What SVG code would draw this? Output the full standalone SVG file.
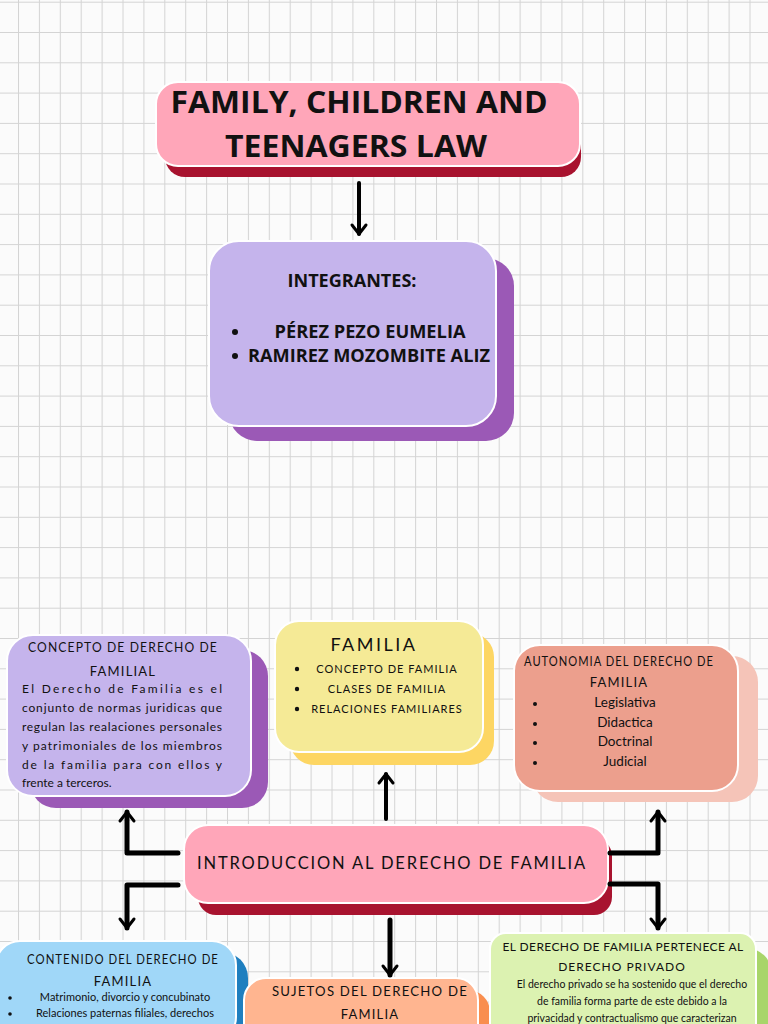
<svg xmlns="http://www.w3.org/2000/svg" width="768" height="1024" viewBox="0 0 768 1024">
<defs>
<pattern id="grid" patternUnits="userSpaceOnUse" x="18" y="1.7" width="20.9" height="30.3">
<rect width="20.9" height="30.3" fill="#fbfbfb"/>
<path d="M0.5,0 V30.3 M0,0.5 H20.9" stroke="#d4d4d4" stroke-width="1" fill="none"/>
</pattern>
<marker id="arr" viewBox="0 0 20 20" refX="15" refY="10" markerWidth="20" markerHeight="20" markerUnits="userSpaceOnUse" orient="auto">
<path d="M6,3 L15,10 L6,17" stroke="#000" stroke-width="3" fill="none" stroke-linecap="round" stroke-linejoin="round"/>
</marker>
<style>
.front{stroke:#fff;stroke-width:2}
.cap{font-family:Lato,"Open Sans",sans-serif;font-size:13px;letter-spacing:1.2px;fill:#111;text-anchor:middle}
.item{font-family:Lato,"Open Sans",sans-serif;font-size:11px;letter-spacing:1px;fill:#111;text-anchor:middle}
.hand{font-family:Lato,"Open Sans",sans-serif;font-size:12px;fill:#111}
.handc{font-family:Lato,"Open Sans",sans-serif;font-size:11px;fill:#111;text-anchor:middle}
.bold{font-family:"Open Sans","Liberation Sans",sans-serif;font-weight:bold;fill:#111;text-anchor:middle}
.conn{stroke:#000;stroke-width:5;fill:none;stroke-linecap:round;stroke-linejoin:round}
</style>
</defs>
<rect width="768" height="1024" fill="url(#grid)"/>

<g id="title">
<rect x="165" y="94" width="416" height="83" rx="20" fill="#a8132f"/>
<rect x="156" y="82" width="424" height="84" rx="22" fill="#ffa6b9" class="front"/>
<text x="359" y="113" class="bold" style="font-size:31px" textLength="377" lengthAdjust="spacingAndGlyphs">FAMILY, CHILDREN AND</text>
<text x="356" y="157" class="bold" style="font-size:31px" textLength="262" lengthAdjust="spacingAndGlyphs">TEENAGERS LAW</text>
</g>

<g id="integrantes">
<rect x="229" y="258" width="285" height="183" rx="28" fill="#9b59b6"/>
<rect x="209" y="241" width="287" height="185" rx="30" fill="#c5b4ec" class="front"/>
<text x="352" y="287" class="bold" style="font-size:18px" textLength="129" lengthAdjust="spacingAndGlyphs">INTEGRANTES:</text>
<circle cx="235" cy="332" r="3" fill="#111"/>
<text x="370" y="338" class="bold" style="font-size:18px" textLength="191" lengthAdjust="spacingAndGlyphs">PÉREZ PEZO EUMELIA</text>
<circle cx="235" cy="356" r="3" fill="#111"/>
<text x="369" y="362" class="bold" style="font-size:18px" textLength="242" lengthAdjust="spacingAndGlyphs">RAMIREZ MOZOMBITE ALIZ</text>
</g>

<g id="concepto">
<rect x="30" y="650" width="238" height="158" rx="26" fill="#9b59b6"/>
<rect x="7" y="635" width="244" height="161" rx="26" fill="#c5b4ec" class="front"/>
<text x="123" y="652" class="cap" textLength="190" lengthAdjust="spacingAndGlyphs">CONCEPTO DE DERECHO DE</text>
<text x="123" y="676" class="cap">FAMILIAL</text>
<text x="22" y="693" class="hand" textLength="200" lengthAdjust="spacing">El Derecho de Familia es el</text>
<text x="22" y="712" class="hand" textLength="200" lengthAdjust="spacing">conjunto de normas juridicas que</text>
<text x="22" y="731" class="hand" textLength="200" lengthAdjust="spacing">regulan las realaciones personales</text>
<text x="22" y="750" class="hand" textLength="200" lengthAdjust="spacing">y patrimoniales de los miembros</text>
<text x="22" y="769" class="hand" textLength="200" lengthAdjust="spacing">de la familia para con ellos y</text>
<text x="22" y="787" class="hand">frente a terceros.</text>
</g>

<g id="familia">
<rect x="290" y="633" width="204" height="132" rx="24" fill="#fdd663"/>
<rect x="275" y="621" width="208" height="131" rx="24" fill="#f5ea96" class="front"/>
<text x="374" y="651" class="cap" style="font-size:18px;letter-spacing:2.5px">FAMILIA</text>
<circle cx="297" cy="669" r="2.2" fill="#111"/>
<text x="387" y="673" class="item">CONCEPTO DE FAMILIA</text>
<circle cx="297" cy="689" r="2.2" fill="#111"/>
<text x="387" y="693" class="item">CLASES DE FAMILIA</text>
<circle cx="297" cy="709" r="2.2" fill="#111"/>
<text x="387" y="713" class="item">RELACIONES FAMILIARES</text>
</g>

<g id="autonomia">
<rect x="532" y="656" width="226" height="146" rx="26" fill="#f5c4b8"/>
<rect x="514" y="645" width="224" height="146" rx="26" fill="#ec9f8d" class="front"/>
<text x="619" y="666" class="cap" textLength="190" lengthAdjust="spacingAndGlyphs">AUTONOMIA DEL DERECHO DE</text>
<text x="619" y="687" class="cap">FAMILIA</text>
<circle cx="535" cy="704" r="2" fill="#111"/>
<text x="625" y="707" class="handc" style="font-size:13.5px">Legislativa</text>
<circle cx="535" cy="724" r="2" fill="#111"/>
<text x="625" y="727" class="handc" style="font-size:13.5px">Didactica</text>
<circle cx="535" cy="743" r="2" fill="#111"/>
<text x="625" y="746" class="handc" style="font-size:13.5px">Doctrinal</text>
<circle cx="535" cy="763" r="2" fill="#111"/>
<text x="625" y="766" class="handc" style="font-size:13.5px">Judicial</text>
</g>

<g id="introduccion">
<rect x="198" y="838" width="414" height="77" rx="18" fill="#a8132f"/>
<rect x="184" y="825" width="424" height="78" rx="24" fill="#ffa6b9" class="front"/>
<text x="392" y="869" class="cap" style="font-size:18px;letter-spacing:2px" textLength="390" lengthAdjust="spacingAndGlyphs">INTRODUCCION AL DERECHO DE FAMILIA</text>
</g>

<g id="contenido">
<rect x="20" y="952" width="228" height="90" rx="26" fill="#1f7fbf"/>
<rect x="-4" y="941" width="240" height="100" rx="24" fill="#a0d7f8" class="front"/>
<text x="123" y="964" class="cap" textLength="192" lengthAdjust="spacingAndGlyphs">CONTENIDO DEL DERECHO DE</text>
<text x="123" y="986" class="cap">FAMILIA</text>
<circle cx="10" cy="998" r="1.8" fill="#111"/>
<text x="125" y="1001" class="handc" style="font-size:11px">Matrimonio, divorcio y concubinato</text>
<circle cx="10" cy="1014" r="1.8" fill="#111"/>
<text x="125" y="1017" class="handc" style="font-size:11px">Relaciones paternas filiales, derechos</text>
</g>

<g id="sujetos">
<rect x="262" y="990" width="228" height="60" rx="22" fill="#f98e4e"/>
<rect x="244" y="978" width="234" height="70" rx="22" fill="#ffb590" class="front"/>
<text x="370" y="996" class="cap" textLength="196" lengthAdjust="spacingAndGlyphs">SUJETOS DEL DERECHO DE</text>
<text x="370" y="1019" class="cap">FAMILIA</text>
</g>

<g id="privado">
<rect x="510" y="948" width="262" height="100" rx="26" fill="#a8d56a"/>
<rect x="490" y="933" width="266" height="112" rx="16" fill="#dcf2b1" class="front"/>
<text x="623" y="951" class="cap" style="font-size:12px;letter-spacing:0.4px">EL DERECHO DE FAMILIA PERTENECE AL</text>
<text x="622" y="971" class="cap" style="font-size:12px;letter-spacing:1px">DERECHO PRIVADO</text>
<text x="632" y="988" class="handc" style="font-size:10.5px">El derecho privado se ha sostenido que el derecho</text>
<text x="632" y="1005" class="handc" style="font-size:10.5px">de familia forma parte de este debido a la</text>
<text x="632" y="1022" class="handc" style="font-size:10.5px">privacidad  y contractualismo que caracterizan</text>
</g>

<g id="connectors">
<path class="conn" style="stroke-width:4px" d="M359,183 L359,234" marker-end="url(#arr)"/>
<path class="conn" style="stroke-width:4px" d="M386,819 L386,774" marker-end="url(#arr)"/>
<path class="conn" d="M178,853 L127,853 L127,812" marker-end="url(#arr)"/>
<path class="conn" d="M178,885 L127,885 L127,928" marker-end="url(#arr)"/>
<path class="conn" d="M610,853 L658,853 L658,812" marker-end="url(#arr)"/>
<path class="conn" d="M610,884 L658,884 L658,928" marker-end="url(#arr)"/>
<path class="conn" d="M390,920 L390,975" marker-end="url(#arr)"/>
</g>
</svg>
